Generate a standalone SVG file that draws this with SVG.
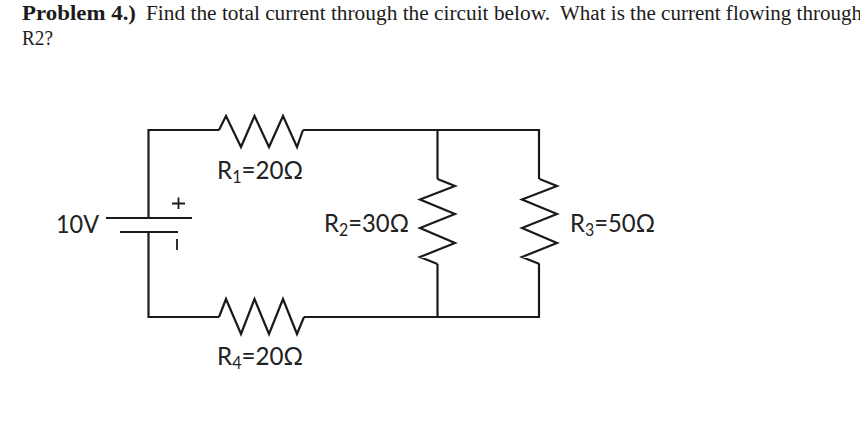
<svg xmlns="http://www.w3.org/2000/svg" width="860" height="422" viewBox="0 0 860 422">
<style>
.w{fill:none;stroke:#1a1a1a;stroke-width:2.200;stroke-linejoin:miter}
.p{fill:none;stroke:#1a1a1a;stroke-width:1.800}
.l{font-family:"Lato","Open Sans",sans-serif;font-size:25.500px;fill:#222}
.s{font-size:17px}
.t{font-family:"Liberation Serif",serif;font-size:20.500px;fill:#1c1c1c}
.b{font-weight:bold}
</style>
<rect width="860" height="422" fill="#fff"/>
<g id="problem-text">
<text class="t b" x="22" y="20" textLength="114" lengthAdjust="spacingAndGlyphs">Problem 4.)</text>
<text class="t" x="146" y="20" textLength="404" lengthAdjust="spacingAndGlyphs">Find the total current through the circuit below.</text>
<text class="t" x="560" y="20" textLength="302" lengthAdjust="spacingAndGlyphs">What is the current flowing through</text>
<text class="t" x="22" y="45" textLength="31" lengthAdjust="spacingAndGlyphs">R2?</text>
</g>
<g id="connectors">
<path class="w" d="M148.500 218V130H219"/>
<path class="w" d="M303 130H539V179"/>
<path class="w" d="M437.500 130V179"/>
<path class="w" d="M148.500 232V317H219"/>
<path class="w" d="M304 317H539V264"/>
<path class="w" d="M437.500 317V264"/>
</g>
<g id="battery">
<path class="w" d="M106 218H192M120 232H178"/>
<path class="p" d="M172 203.500H185M178.500 197.500V209M177 239V250"/>
<text class="l" x="56" y="233" textLength="43" lengthAdjust="spacingAndGlyphs">10V</text>
</g>
<g id="r1">
<path class="w" d="M219 130L226 116L241 147L254.500 116L269 147L283 116L297 147L303 130"/>
<text class="l" x="217" y="179" textLength="86" lengthAdjust="spacingAndGlyphs">R<tspan class="s" dy="4">1</tspan><tspan dy="-4">=20Ω</tspan></text>
</g>
<g id="r2">
<path class="w" d="M437.500 179L455 186L420 199.500L455 214L420 228L455 243L420 257L437.500 264"/>
<text class="l" x="324" y="232" textLength="85" lengthAdjust="spacingAndGlyphs">R<tspan class="s" dy="4">2</tspan><tspan dy="-4">=30Ω</tspan></text>
</g>
<g id="r3">
<path class="w" d="M539.500 179L557 186L522 199.500L557 214L522 228L557 243L522 257L539.500 264"/>
<text class="l" x="570" y="232" textLength="85" lengthAdjust="spacingAndGlyphs">R<tspan class="s" dy="4">3</tspan><tspan dy="-4">=50Ω</tspan></text>
</g>
<g id="r4">
<path class="w" d="M219 317L226 299L241 334L254.500 299L269 334L283 299L297 334L304 317"/>
<text class="l" x="217" y="365" textLength="86" lengthAdjust="spacingAndGlyphs">R<tspan class="s" dy="4">4</tspan><tspan dy="-4">=20Ω</tspan></text>
</g>
</svg>
